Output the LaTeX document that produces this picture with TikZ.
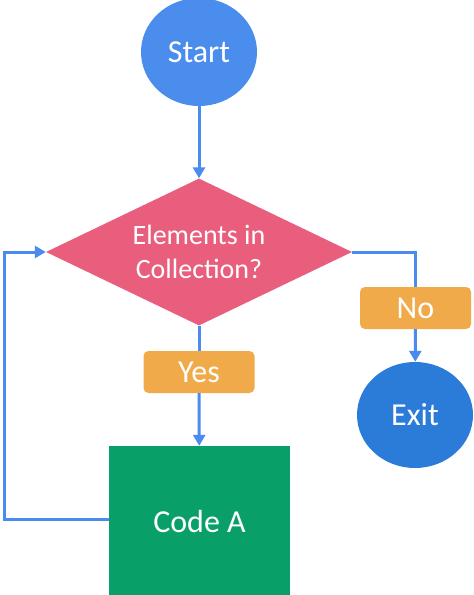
\documentclass[tikz,border=0pt]{standalone}
\definecolor{StartBlue}{RGB}{74,141,236}
\definecolor{ExitBlue}{RGB}{43,124,216}
\definecolor{FlowBlue}{RGB}{74,139,240}
\definecolor{DecPink}{RGB}{233,94,124}
\definecolor{LabelOrange}{RGB}{240,170,74}
\definecolor{CodeGreen}{RGB}{8,160,104}
\usepackage{fontspec}
\setmainfont{Carlito}
\usepackage{tikz}
\usetikzlibrary{shapes,arrows.meta}

\begin{document}
\begin{tikzpicture}[x=1pt, y=-1pt]
				\tikzstyle{every node}=[text=white, inner sep=0pt, font=\fontsize{32}{38}\selectfont];
				\tikzstyle{flow}=[draw=FlowBlue, line width=3pt, -{Triangle[length=11pt, width=12pt]}];
				\tikzstyle{answer}=[fill=LabelOrange, rounded corners=5pt, minimum width=111pt, minimum height=42pt];
				\useasboundingbox (0,0) rectangle (474,595);
				\node [ellipse, fill=StartBlue, minimum width=116pt, minimum height=108pt] (start) at (199,52) {Start};
				\node [diamond, fill=DecPink, aspect=2.08, minimum width=306pt, minimum height=147pt, align=center, font=\fontsize{28}{34}\selectfont] (dec) at (199,252) {Elements in\\Collection?};
				\node [answer] (yes) at (199,372) {Yes};
				\node [answer] (no) at (415.5,308) {No};
				\node [ellipse, fill=ExitBlue, minimum width=116pt, minimum height=106pt] (exit) at (415,415) {Exit};
				\node [fill=CodeGreen, minimum width=181pt, minimum height=150pt] (code) at (199.5,521) {Code A};
				\coordinate (back) at (4,519);
				\draw[flow] (start) -- (dec);
				\draw[flow, -] (dec) -- (yes);
				\draw[flow] (yes) -- (code);
				\draw[flow, -] (dec.east) -| (no.north);
				\draw[flow] (no) -- (exit);
				\draw[flow] (code.west |- back) -- (back) |- (dec.west);
			\end{tikzpicture}
\end{document}
